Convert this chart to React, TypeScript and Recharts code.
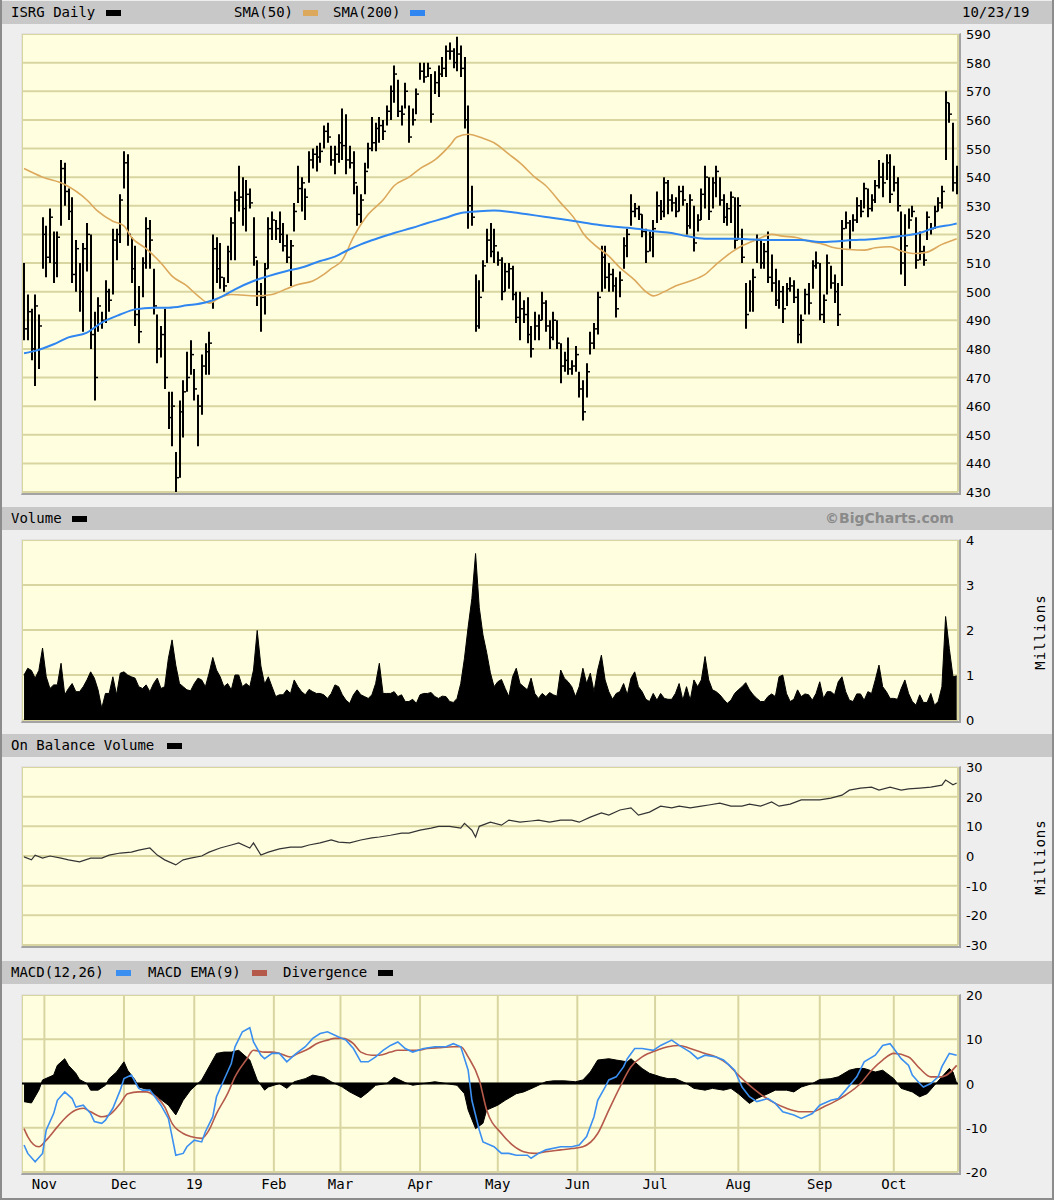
import React from 'react';
import { ComposedChart, Bar, Line, Area, XAxis, YAxis, CartesianGrid, ReferenceLine } from 'recharts';

// daily bars, oldest first (10/24/18 .. 10/23/19)
const highs = [
  510, 499, 494, 499, 492, 526, 523, 529, 521, 521, 546, 545, 536, 533, 518, 510, 517, 524, 520, 493,
  498, 493, 504, 501, 522, 522, 534, 549, 548, 519, 516, 502, 512, 526, 525, 508, 492, 488, 494, 465,
  465, 444, 462, 469, 479, 483, 473, 464, 478, 482, 486, 520, 519, 517, 505, 516, 526, 535, 544, 540,
  539, 536, 526, 511, 503, 510, 526, 528, 525, 528, 524, 520, 518, 531, 544, 540, 536, 549, 550, 551,
  552, 558, 559, 551, 551, 555, 564, 562, 551, 549, 537, 534, 545, 552, 561, 559, 561, 560, 565, 572,
  579, 574, 565, 573, 565, 564, 571, 580, 580, 580, 576, 577, 579, 582, 586, 587, 585, 589, 586, 582,
  565, 537, 506, 504, 511, 522, 524, 522, 514, 512, 510, 510, 509, 500, 500, 497, 498, 488, 493, 492,
  500, 497, 490, 493, 490, 482, 479, 484, 476, 481, 472, 469, 475, 486, 489, 500, 516, 516, 510, 508,
  505, 507, 519, 522, 534, 531, 530, 527, 522, 521, 525, 535, 532, 540, 539, 534, 533, 537, 537, 531,
  534, 530, 527, 536, 544, 540, 540, 544, 540, 534, 531, 535, 533, 533, 522, 503, 504, 508, 520, 518,
  517, 521, 513, 508, 504, 502, 503, 505, 504, 501, 492, 501, 503, 511, 514, 510, 499, 513, 509, 506,
  503, 525, 528, 525, 527, 533, 532, 538, 536, 534, 539, 546, 545, 548, 548, 544, 540, 528, 527, 529,
  530, 526, 521, 516, 528, 524, 530, 533, 537, 570, 566, 559, 544,
];
const lows = [
  483, 483, 476, 467, 473, 508, 505, 510, 503, 505, 523, 530, 525, 503, 500, 493, 486, 507, 480, 462,
  486, 487, 489, 493, 499, 511, 517, 536, 516, 503, 488, 482, 498, 508, 508, 492, 475, 477, 466, 452,
  446, 430, 435, 449, 465, 471, 462, 446, 457, 471, 471, 494, 503, 501, 500, 503, 511, 511, 528, 523,
  521, 529, 509, 495, 486, 492, 508, 518, 518, 517, 514, 510, 502, 521, 531, 528, 525, 538, 543, 542,
  545, 550, 552, 544, 541, 545, 546, 541, 543, 534, 523, 524, 534, 543, 549, 549, 552, 553, 558, 560,
  566, 561, 558, 564, 552, 558, 562, 574, 573, 575, 559, 569, 568, 575, 575, 581, 578, 577, 575, 557,
  522, 523, 486, 487, 500, 510, 512, 510, 509, 497, 500, 501, 497, 489, 483, 489, 482, 477, 483, 483,
  490, 486, 480, 483, 480, 468, 472, 471, 471, 472, 463, 455, 463, 478, 480, 485, 500, 501, 500, 500,
  491, 498, 508, 512, 523, 526, 525, 519, 510, 514, 512, 524, 525, 526, 527, 528, 526, 528, 530, 520,
  522, 514, 521, 525, 529, 525, 529, 533, 530, 524, 523, 524, 515, 518, 510, 487, 493, 493, 510, 508,
  508, 503, 500, 495, 494, 489, 495, 500, 496, 482, 482, 492, 492, 501, 508, 490, 489, 499, 501, 496,
  488, 502, 522, 515, 521, 524, 526, 529, 526, 528, 531, 536, 533, 539, 531, 535, 528, 506, 502, 522,
  526, 508, 511, 509, 518, 520, 522, 528, 529, 546, 559, 535, 534,
];
const closes = [
  487, 493, 480, 495, 488, 520, 512, 526, 510, 519, 543, 535, 528, 506, 515, 500, 515, 520, 485, 470,
  495, 490, 500, 497, 518, 520, 532, 545, 520, 508, 492, 486, 510, 522, 518, 495, 480, 485, 470, 456,
  460, 435, 458, 465, 470, 478, 466, 460, 474, 479, 482, 515, 508, 505, 502, 514, 524, 532, 533, 529,
  534, 531, 512, 500, 498, 508, 522, 525, 522, 520, 516, 512, 516, 528, 536, 538, 533, 546, 548, 547,
  549, 556, 554, 546, 548, 552, 551, 546, 545, 538, 527, 532, 542, 550, 552, 557, 558, 556, 563, 570,
  576, 563, 562, 570, 554, 560, 569, 577, 575, 578, 562, 573, 576, 578, 584, 584, 580, 583, 578, 560,
  530, 526, 488, 498, 509, 518, 514, 516, 511, 500, 507, 508, 499, 491, 494, 492, 485, 480, 488, 490,
  496, 488, 484, 490, 482, 474, 476, 473, 474, 478, 466, 458, 472, 482, 487, 498, 512, 505, 506, 502,
  494, 504, 516, 520, 528, 529, 527, 521, 514, 519, 522, 530, 528, 538, 532, 531, 528, 535, 532, 523,
  532, 517, 525, 534, 540, 528, 538, 542, 532, 526, 529, 533, 518, 530, 512, 492, 500, 505, 518, 510,
  514, 505, 503, 497, 500, 494, 501, 502, 498, 485, 490, 499, 496, 509, 510, 492, 497, 510, 503, 500,
  492, 522, 524, 518, 525, 530, 528, 536, 529, 532, 537, 540, 538, 545, 534, 538, 530, 510, 516, 525,
  528, 511, 514, 511, 526, 522, 528, 531, 535, 566, 562, 538, 540,
];
// millions of shares
const volumes = [
  1.0, 1.15, 1.1, 0.93, 1.1, 1.6, 0.96, 0.7, 0.78, 0.78, 1.26, 0.56, 0.7, 0.81, 0.63, 0.63, 0.74, 0.89, 1.07, 0.93,
  0.67, 0.26, 0.59, 0.59, 0.96, 0.56, 1.04, 1.07, 1.0, 0.96, 0.93, 0.74, 0.7, 0.78, 0.63, 0.81, 0.93, 0.7, 0.74, 1.37,
  1.78, 1.22, 0.81, 0.74, 0.67, 0.65, 0.81, 0.93, 0.89, 0.74, 1.04, 1.39, 1.11, 0.96, 0.74, 0.81, 0.67, 1.0, 1.0, 0.74,
  0.81, 0.74, 1.11, 1.99, 1.2, 0.8, 0.96, 0.74, 0.52, 0.56, 0.56, 0.67, 0.59, 0.89, 0.74, 0.63, 0.56, 0.68, 0.63, 0.59,
  0.59, 0.56, 0.48, 0.59, 0.78, 0.74, 0.56, 0.44, 0.37, 0.56, 0.67, 0.56, 0.52, 0.48, 0.56, 0.81, 1.26, 0.59, 0.59, 0.59,
  0.63, 0.52, 0.56, 0.41, 0.41, 0.46, 0.37, 0.56, 0.59, 0.59, 0.61, 0.52, 0.48, 0.53, 0.52, 0.41, 0.39, 0.48, 0.81, 1.37,
  2.07, 2.7, 3.7, 2.5, 1.89, 1.5, 1.05, 0.74, 0.85, 0.9, 0.7, 0.52, 0.96, 1.15, 0.81, 0.74, 0.67, 0.93, 0.59, 0.48,
  0.59, 0.52, 0.61, 0.56, 0.53, 1.11, 0.93, 0.85, 0.74, 0.52, 0.74, 1.15, 0.81, 1.04, 0.63, 1.11, 1.44, 0.89, 0.63, 0.46,
  0.59, 0.63, 0.81, 0.56, 0.93, 1.07, 0.74, 0.63, 0.46, 0.41, 0.59, 0.44, 0.59, 0.48, 0.46, 0.46, 0.59, 0.81, 0.44, 0.74,
  0.44, 0.89, 0.74, 0.89, 1.41, 0.89, 0.67, 0.63, 0.56, 0.46, 0.37, 0.44, 0.59, 0.67, 0.74, 0.83, 0.67, 0.56, 0.48, 0.41,
  0.41, 0.52, 0.58, 0.52, 0.96, 1.0, 0.59, 0.41, 0.46, 0.67, 0.52, 0.58, 0.56, 0.44, 0.59, 0.85, 0.48, 0.63, 0.63, 0.56,
  0.85, 0.96, 0.63, 0.44, 0.41, 0.58, 0.58, 0.44, 0.63, 0.59, 0.89, 1.22, 0.74, 0.63, 0.48, 0.48, 0.46, 0.7, 0.89, 0.59,
  0.41, 0.33, 0.56, 0.39, 0.39, 0.59, 0.33, 0.41, 0.74, 2.3, 1.59, 0.96, 0.98,
];

// [day index, value] readings of the smoother studies
const sma50Pts: [number, number][] = [
  [0, 543], [5, 540], [11, 537.4], [17, 532], [20, 528], [24, 524.6], [27, 523], [29, 519], [33, 515], [37, 510],
  [40, 505.4], [44, 502], [47, 498.5], [50, 496], [53, 498], [56, 499], [63, 498.5], [67, 499], [71, 501], [74, 502.5],
  [78, 503.7], [81, 506], [83, 508], [86, 511], [89, 519], [93, 527], [97, 532], [100, 537], [104, 540], [107, 543],
  [111, 546], [115, 551], [117, 554], [120, 555], [124, 553.6], [127, 552], [131, 548], [134, 545], [138, 540], [141, 537],
  [145, 531], [149, 525], [151, 520.5], [154, 516.5], [158, 512.4], [161, 508.4], [165, 504], [168, 500], [170, 498.5], [173, 500],
  [176, 502], [180, 503.7], [184, 506], [187, 509.5], [191, 513.6], [194, 516], [198, 518.2], [202, 520], [205, 519.4], [209, 518.8],
  [212, 517.6], [216, 516.5], [219, 515.3], [223, 514.7], [227, 514.5], [230, 515.3], [234, 515.7], [237, 514.2], [241, 513.3], [244, 513.8],
  [248, 516.5], [252, 518.5],
];
const sma200Pts: [number, number][] = [
  [0, 478.5], [3, 479.3], [8, 481.6], [12, 484], [17, 485.7], [21, 489.2], [26, 492], [30, 493.8], [35, 494.4], [39, 494.4],
  [44, 495.2], [49, 496.2], [53, 498], [57, 500.8], [62, 503.7], [66, 505.4], [71, 507.2], [75, 508.4], [80, 510.7], [84, 512.2],
  [87, 514.2], [91, 516.5], [96, 518.8], [100, 520.5], [105, 522.3], [109, 524], [114, 525.8], [118, 527.5], [123, 528.1], [127, 528.3],
  [132, 527.7], [136, 527], [141, 526.1], [145, 525.4], [149, 524.6], [154, 523.5], [158, 522.9], [163, 522.3], [167, 521.7], [170, 521.1],
  [175, 520.5], [179, 519.4], [184, 518.5], [188, 518.5], [193, 518.5], [197, 518.2], [202, 518], [206, 518], [210, 518], [215, 517.3],
  [219, 517.5], [224, 518], [228, 518.2], [233, 518.8], [237, 519.4], [242, 520.5], [246, 522.3], [251, 523.5], [252, 523.8],
];
const obvPts: [number, number][] = [
  [0, -0.3], [2, -1.3], [3, 0.3], [5, -0.7], [7, 0], [10, -0.7], [12, -1.3], [15, -2], [18, -0.7], [21, -0.7],
  [23, 0.3], [26, 1], [29, 1.3], [31, 2], [34, 2.7], [36, 0.3], [38, -1.3], [41, -3], [43, -1.3], [45, -0.7],
  [48, 0], [50, 1.3], [53, 2.7], [56, 3.7], [58, 4.4], [61, 2.7], [62, 4.4], [64, 0.3], [66, 1.3], [69, 2.4],
  [72, 3], [75, 3], [77, 3.7], [80, 4.4], [83, 5.4], [85, 4.7], [88, 4.4], [91, 5.4], [94, 6.1], [96, 6.4],
  [99, 7], [102, 7.7], [104, 7.7], [107, 8.7], [110, 9.4], [112, 10], [115, 10], [118, 9.4], [119, 11], [121, 8.7],
  [122, 6.4], [123, 10], [126, 11.4], [129, 10.4], [131, 12.1], [134, 11.4], [137, 11.8], [139, 12.1], [142, 11.4], [145, 12.1],
  [148, 12.1], [150, 11.4], [153, 13.1], [156, 14.5], [158, 13.8], [161, 15.5], [164, 16.2], [166, 13.8], [169, 14.8], [172, 16.8],
  [175, 16.2], [177, 16.8], [180, 16.2], [183, 16.8], [185, 17.2], [188, 17.8], [191, 16.8], [194, 16.8], [196, 17.5], [199, 16.8],
  [202, 18.2], [204, 16.8], [207, 17.5], [210, 18.9], [212, 18.9], [215, 18.9], [218, 19.5], [221, 20.5], [223, 22.2], [226, 22.9],
  [229, 23.2], [231, 22.2], [234, 23.2], [237, 22.2], [239, 22.6], [242, 22.9], [245, 23.2], [248, 23.9], [249, 25.6], [251, 24],
  [252, 24.6],
];
const macdPts: [number, number][] = [
  [0, -13.9], [1, -15.8], [3, -17.7], [5, -15.8], [6, -10.5], [8, -6.8], [9, -3.8], [11, -1.9], [13, -3.4], [14, -5.3],
  [16, -4.9], [18, -6.8], [19, -8.6], [21, -9], [22, -8.3], [24, -5.6], [26, -1.5], [27, 1.1], [29, 1.9], [31, -1.1],
  [32, -1.5], [34, -1.5], [35, -2.6], [37, -4.9], [39, -7.9], [40, -12], [41, -16.2], [43, -15.8], [44, -14.3], [46, -12.8],
  [48, -13.2], [49, -10.9], [51, -7.5], [52, -3], [54, 0.8], [56, 4.5], [57, 8.3], [59, 11.7], [61, 12.6], [62, 9.4],
  [64, 6.4], [65, 5.6], [67, 6.8], [69, 6.8], [71, 4.9], [73, 6.4], [74, 7.1], [76, 8.3], [78, 10.2], [80, 11.3],
  [82, 11.7], [85, 10.5], [87, 9.8], [89, 7.9], [91, 4.9], [93, 4.9], [95, 6], [97, 7.5], [99, 8.6], [101, 9.4],
  [103, 7.9], [105, 7.1], [108, 7.9], [111, 8.3], [114, 8.3], [116, 9], [118, 8.3], [120, 3], [121, -3.8], [123, -10.5],
  [124, -13.2], [127, -14.3], [129, -15.8], [131, -15.8], [133, -16.2], [136, -16.2], [137, -16.9], [139, -15.8], [141, -15], [145, -14.3],
  [148, -14.3], [150, -13.9], [152, -12], [154, -7.5], [155, -3.8], [157, -0.8], [158, 0.8], [160, 1.5], [162, 3.8], [163, 5.6],
  [165, 7.9], [167, 7.9], [170, 7.5], [172, 8.6], [175, 9.8], [177, 8.6], [180, 7.1], [182, 5.6], [184, 6.4], [187, 6],
  [189, 5.3], [192, 3], [194, -0.8], [196, -3], [198, -4.1], [201, -3.4], [203, -4.5], [205, -6.4], [208, -7.1], [210, -7.9],
  [213, -6.8], [215, -4.9], [218, -3.8], [220, -3.4], [222, -1.5], [225, 1.5], [227, 4.9], [230, 6.4], [232, 8.6], [234, 9],
  [235, 7.9], [237, 5.6], [239, 4.1], [240, 1.9], [242, 0], [243, -0.8], [245, 0], [247, 1.5], [248, 3.8], [250, 6.8],
  [252, 6.4],
];
const signalPts: [number, number][] = [
  [0, -10.2], [1, -12], [4, -14.3], [6, -12.8], [9, -9.8], [11, -7.9], [14, -6], [16, -5.6], [18, -6.4], [21, -7.5],
  [23, -7.1], [26, -4.5], [28, -2.3], [31, -1.9], [33, -1.9], [35, -2.6], [38, -5.3], [40, -9], [43, -11.3], [45, -12],
  [48, -12.4], [50, -10.5], [52, -6.8], [55, -2.3], [57, 1.5], [60, 5.3], [62, 7.5], [65, 7.1], [67, 7.1], [69, 6.8],
  [72, 6], [74, 6.8], [77, 7.9], [79, 9], [82, 9.8], [84, 10.2], [86, 10.2], [89, 9], [91, 7.1], [94, 6.4],
  [96, 6.4], [99, 7.1], [101, 7.5], [103, 7.5], [106, 7.5], [109, 7.9], [112, 8.1], [116, 8.3], [118, 8.3], [120, 6],
  [123, 0.8], [125, -6], [129, -11.3], [132, -13.9], [135, -15.4], [138, -15.8], [141, -15.4], [145, -15], [148, -14.7], [151, -14.3],
  [155, -11.3], [158, -6], [161, -0.8], [164, 3.8], [167, 6], [171, 7.5], [174, 8.3], [177, 8.6], [180, 7.9], [184, 6.8],
  [187, 6], [190, 4.5], [193, 1.9], [197, -1.1], [200, -3], [203, -4.5], [206, -5.6], [210, -6.4], [213, -6.4], [216, -5.3],
  [219, -4.1], [222, -2.6], [226, 0], [229, 3], [232, 5.3], [235, 6.8], [239, 6], [242, 3.4], [245, 1.5], [248, 1.5],
  [252, 4.1],
];
const divergencePts: [number, number][] = [
  [0, -4.1], [2, -4.4], [4, -1.5], [5, 0.8], [8, 1.9], [9, 4.1], [11, 5.6], [12, 4.1], [14, 2.3], [15, 0.9],
  [17, 0], [18, -1.5], [20, -1.5], [22, -0.4], [23, 1.1], [25, 2.6], [27, 4.9], [28, 3], [30, 0.8], [31, -0.8],
  [34, -1.5], [36, -3], [39, -4.9], [41, -7.1], [43, -3.8], [45, -1.5], [48, 0.8], [49, 2.3], [52, 6.8], [54, 7.1],
  [56, 7.1], [58, 7.5], [61, 5.3], [63, 0.8], [65, -1.5], [66, -0.8], [69, 0], [71, -1.1], [73, 0.4], [76, 1.1],
  [78, 1.9], [81, 1.4], [83, 0.4], [86, -0.8], [88, -1.9], [91, -3.2], [93, -1.9], [95, -0.4], [98, 0], [100, 1.4],
  [103, 0.2], [105, -0.4], [108, 0], [111, 0.4], [114, 0], [117, -0.4], [119, -2.3], [120, -6], [122, -10.2], [124, -9],
  [125, -6], [128, -4.9], [130, -3.8], [133, -2.3], [135, -1.9], [138, -0.8], [141, 0.4], [143, 0.6], [146, 0.6], [149, 0.4],
  [151, 0.8], [153, 2.6], [155, 5.3], [158, 5.6], [160, 5.3], [163, 4.9], [164, 5.6], [167, 3.4], [169, 2.3], [172, 1.5],
  [174, 1.1], [176, 1.1], [179, 0], [181, -1.1], [184, -1.5], [186, -1.1], [189, -1.5], [191, -1.1], [193, -2.3], [196, -4.5],
  [198, -3.4], [201, -2.3], [203, -1.5], [206, -1.5], [208, -1.9], [210, -0.8], [213, 0], [215, 0.9], [218, 1.1], [220, 1.5],
  [223, 3], [225, 3.4], [227, 3.4], [230, 2.6], [232, 3], [235, 1.1], [237, -1.1], [240, -1.9], [242, -3], [244, -2.3],
  [246, -0.4], [248, 1.5], [250, 3.4], [251, 2.6], [252, 0],
];

// month separators sit between the last bar of one month and the first of the next
const monthTicks = [5.5, 27, 46, 67.5, 85.5, 107, 128, 149.5, 170.5, 193, 215, 235];
const monthLabels = ['Nov', 'Dec', '19', 'Feb', 'Mar', 'Apr', 'May', 'Jun', 'Jul', 'Aug', 'Sep', 'Oct'];
const priceTicks = [430, 440, 450, 460, 470, 480, 490, 500, 510, 520, 530, 540, 550, 560, 570, 580, 590];
const volumeTicks = [0, 1, 2, 3, 4];
const obvTicks = [-30, -20, -10, 0, 10, 20, 30];
const macdTicks = [-20, -10, 0, 10, 20];

const xDomain = [-0.55, 252.35];

const priceRows: any[] = highs.map((h, i) => ({ i, hl: [lows[i], h], close: closes[i] }));
sma50Pts.forEach(([i, v]) => { priceRows[i].sma50 = v; });
sma200Pts.forEach(([i, v]) => { priceRows[i].sma200 = v; });

const volumeRows = volumes.map((v, i) => ({ i, vol: v }));
const obvRows = obvPts.map(([i, v]) => ({ i, obv: v }));

const macdRows: any[] = highs.map((_, i) => ({ i }));
macdPts.forEach(([i, v]) => { macdRows[i].macd = v; });
signalPts.forEach(([i, v]) => { macdRows[i].signal = v; });
divergencePts.forEach(([i, v]) => { macdRows[i].div = v; });

const PLOT_BG = '#ffffe0';
const GRID = '#d8d5a0';
const STRIP = '#c8c8c8';
const MONO = '"DejaVu Sans Mono", monospace';
const SANS = '"DejaVu Sans", sans-serif';
const SMA50_COLOR = '#dca85c';
const SMA200_COLOR = '#2f86f0';
const MACD_COLOR = '#3a8ff0';
const SIGNAL_COLOR = '#b55a4a';

// 10px of slack above and below each plot so the edge tick labels can straddle the border
const PAD = 10;
const margin = { top: PAD, right: 0, bottom: PAD, left: 22 };

const RightTick = ({ x, y, payload }: any) => (
  <text x={x} y={y} dy={5} fontSize={13} fontFamily={SANS} fill="#000">{payload.value}</text>
);

const MonthTick = ({ x, y, payload, index }: any) => (
  <text x={x} y={y} dy={17} textAnchor="middle" fontSize={14} fontFamily={MONO} fill="#000">
    {monthLabels[index] ?? payload.value}
  </text>
);

const HLCBar = (props: any) => {
  const { x, y, width, height, payload } = props;
  if (x == null || y == null) return null;
  const cx = Math.round(x + width / 2);
  const top = Math.min(y, y + height);
  const h = Math.abs(height);
  const [lo, hi] = payload.hl;
  const cy = top + ((hi - payload.close) / (hi - lo || 1)) * h;
  return (
    <g>
      <line x1={cx} x2={cx} y1={top} y2={top + h} stroke="#000" strokeWidth={2} />
      <line x1={cx} x2={cx + 3} y1={cy} y2={cy} stroke="#000" strokeWidth={1.5} />
    </g>
  );
};

const Swatch = ({ color, left }: { color: string; left: number }) => (
  <span style={{ position: 'absolute', left, top: 9, width: 15, height: 6, background: color }} />
);

const Strip = ({ top, children }: { top: number; children: React.ReactNode }) => (
  <div style={{ position: 'absolute', left: 0, top, width: 1054, height: 23, background: STRIP, fontFamily: MONO, fontSize: 14, lineHeight: '23px' }}>
    {children}
  </div>
);

const Label = ({ left, children, style }: any) => (
  <span style={{ position: 'absolute', left, top: 0, ...style }}>{children}</span>
);

const PlotFrame = ({ top, height }: { top: number; height: number }) => (
  <div
    style={{
      position: 'absolute', left: 21, top: top - 1, width: 937, height: height + 1,
      borderTop: '1px solid #e2e2e2', borderLeft: '1px solid #e2e2e2',
      borderRight: '2px solid #a3a3a3', borderBottom: '2px solid #a3a3a3', pointerEvents: 'none',
    }}
  />
);

const Millions = ({ top }: { top: number }) => (
  <div
    style={{
      position: 'absolute', left: 1040, top, transform: 'translate(-50%, -50%) rotate(-90deg)',
      fontFamily: MONO, fontSize: 14, letterSpacing: 1, whiteSpace: 'nowrap',
    }}
  >
    Millions
  </div>
);

const yAxisProps = {
  orientation: 'right' as const,
  width: 96,
  allowDataOverflow: true,
  interval: 0 as const,
  tick: <RightTick />,
  tickLine: false,
  axisLine: false,
  tickSize: 0,
  tickMargin: 8,
};

const HiddenX = () => (
  <XAxis type="number" dataKey="i" domain={xDomain} ticks={monthTicks} allowDataOverflow tick={false} tickLine={false} axisLine={false} height={0} />
);

// plot rectangles: price 34-492, volume 540-720, OBV 767-945, MACD 995-1172
export default function App() {
  return (
    <div style={{ position: 'relative', width: 1054, height: 1200, background: '#eeeeee', boxSizing: 'border-box', overflow: 'hidden' }}>
      <style>{'body { margin: 0; }'}</style>
      <div style={{ position: 'absolute', inset: 0, border: '2px solid #8c8c8c', borderTop: 'none', pointerEvents: 'none', zIndex: 5 }} />

      <Strip top={1}>
        <Label left={11}>ISRG Daily</Label>
        <Swatch color="#000" left={106} />
        <Label left={234}>SMA(50)</Label>
        <Swatch color={SMA50_COLOR} left={303} />
        <Label left={333}>SMA(200)</Label>
        <Swatch color={SMA200_COLOR} left={410} />
        <Label left={962}>10/23/19</Label>
      </Strip>

      <div style={{ position: 'absolute', left: 0, top: 34 - PAD }}>
        <ComposedChart width={1054} height={458 + 2 * PAD} data={priceRows} margin={margin}>
          <CartesianGrid fill={PLOT_BG} stroke={GRID} strokeWidth={2} />
          <HiddenX />
          <YAxis {...yAxisProps} domain={[430, 590]} ticks={priceTicks} />
          <Line dataKey="sma50" stroke={SMA50_COLOR} strokeWidth={1.6} dot={false} activeDot={false} connectNulls type="monotone" isAnimationActive={false} />
          <Line dataKey="sma200" stroke={SMA200_COLOR} strokeWidth={2} dot={false} activeDot={false} connectNulls type="monotone" isAnimationActive={false} />
          <Bar dataKey="hl" barSize={2} shape={<HLCBar />} isAnimationActive={false} />
        </ComposedChart>
      </div>
      <PlotFrame top={34} height={458} />

      <Strip top={507}>
        <Label left={11}>Volume</Label>
        <Swatch color="#000" left={72} />
        <Label left={825} style={{ fontFamily: SANS, fontWeight: 'bold', color: '#8a8a8a', fontSize: 14 }}>©BigCharts.com</Label>
      </Strip>

      <div style={{ position: 'absolute', left: 0, top: 540 - PAD }}>
        <ComposedChart width={1054} height={180 + 2 * PAD} data={volumeRows} margin={margin}>
          <CartesianGrid fill={PLOT_BG} stroke={GRID} strokeWidth={2} />
          <HiddenX />
          <YAxis {...yAxisProps} domain={[0, 4]} ticks={volumeTicks} />
          <Area dataKey="vol" type="linear" stroke="#000" strokeWidth={1} fill="#000" fillOpacity={1} dot={false} activeDot={false} isAnimationActive={false} />
        </ComposedChart>
      </div>
      <PlotFrame top={540} height={180} />
      <Millions top={632} />

      <Strip top={734}>
        <Label left={11}>On Balance Volume</Label>
        <Swatch color="#000" left={167} />
      </Strip>

      <div style={{ position: 'absolute', left: 0, top: 767 - PAD }}>
        <ComposedChart width={1054} height={178 + 2 * PAD} data={obvRows} margin={margin}>
          <CartesianGrid fill={PLOT_BG} stroke={GRID} strokeWidth={2} />
          <HiddenX />
          <YAxis {...yAxisProps} domain={[-30, 30]} ticks={obvTicks} />
          <Line dataKey="obv" stroke="#333" strokeWidth={1.2} dot={false} activeDot={false} type="linear" isAnimationActive={false} />
        </ComposedChart>
      </div>
      <PlotFrame top={767} height={178} />
      <Millions top={857} />

      <Strip top={961}>
        <Label left={11}>MACD(12,26)</Label>
        <Swatch color={MACD_COLOR} left={116} />
        <Label left={148}>MACD EMA(9)</Label>
        <Swatch color={SIGNAL_COLOR} left={252} />
        <Label left={283}>Divergence</Label>
        <Swatch color="#000" left={378} />
      </Strip>

      <div style={{ position: 'absolute', left: 0, top: 995 - PAD }}>
        <ComposedChart width={1054} height={177 + PAD + 28} data={macdRows} margin={{ ...margin, bottom: 0 }}>
          <CartesianGrid fill={PLOT_BG} stroke={GRID} strokeWidth={2} />
          <XAxis type="number" dataKey="i" domain={xDomain} ticks={monthTicks} allowDataOverflow interval={0}
            tick={<MonthTick />} tickLine={false} axisLine={false} height={28} tickSize={0} tickMargin={0} />
          <YAxis {...yAxisProps} domain={[-20, 20]} ticks={macdTicks} />
          <Area dataKey="div" type="linear" stroke="#000" strokeWidth={1} fill="#000" fillOpacity={1} connectNulls baseValue={0} dot={false} activeDot={false} isAnimationActive={false} />
          <ReferenceLine y={0} stroke="#000" strokeWidth={2} />
          <Line dataKey="signal" stroke={SIGNAL_COLOR} strokeWidth={1.6} dot={false} activeDot={false} connectNulls type="monotone" isAnimationActive={false} />
          <Line dataKey="macd" stroke={MACD_COLOR} strokeWidth={1.6} dot={false} activeDot={false} connectNulls type="linear" isAnimationActive={false} />
        </ComposedChart>
      </div>
      <PlotFrame top={995} height={177} />
    </div>
  );
}
